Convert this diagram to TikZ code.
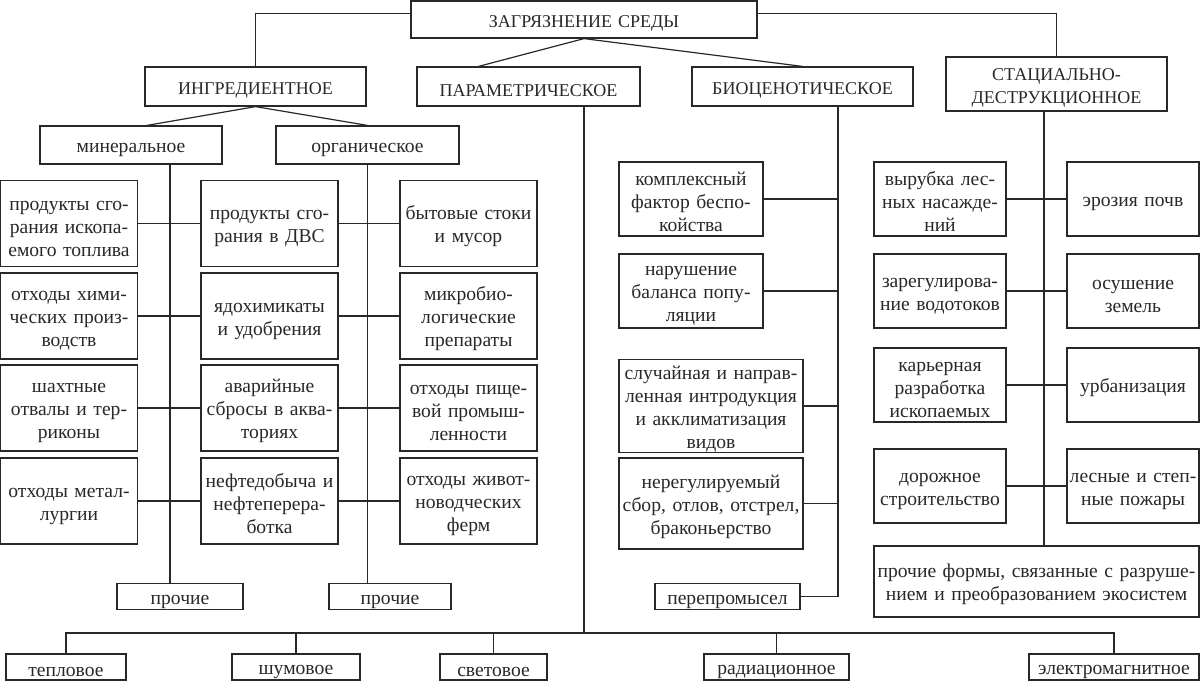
\documentclass[tikz,border=0pt]{standalone}
\usepackage{fontspec}
\setmainfont{Liberation Serif}
\definecolor{ink}{RGB}{40,40,40}
\begin{document}
\begin{tikzpicture}[x=0.5pt,y=-0.5pt,
  box/.style={draw=ink, line width=0.6pt, inner sep=0pt, align=center, text=ink,
    font=\fontsize{9.8}{11.5}\selectfont, execute at begin node={\rule{0pt}{9.8pt}}},
  caps/.style={box, font=\fontsize{9}{11.5}\selectfont},
  cell/.style={box, text width=68.5pt, minimum height=43pt},
  pair/.style={box, text width=66pt, minimum height=37pt},
  low/.style={box, minimum height=13pt},
  link/.style={draw=ink, line width=0.6pt}]
  \useasboundingbox (0,0) rectangle (1200,681);

  % top levels
  \node[caps, text width=173pt, minimum height=18.5pt] (zag) at (584,19.5) {ЗАГРЯЗНЕНИЕ СРЕДЫ};
  \node[caps, text width=110.5pt, minimum height=19.5pt] (ingr) at (255.5,86.5) {ИНГРЕДИЕНТНОЕ};
  \node[caps, text width=111.5pt, minimum height=19.5pt] (param) at (528.5,86.5) {ПАРАМЕТРИЧЕСКОЕ};
  \node[caps, text width=110.5pt, minimum height=19.5pt] (bio) at (802.5,86.5) {БИОЦЕНОТИЧЕСКОЕ};
  \node[caps, text width=110.5pt, minimum height=27pt] (stat) at (1056.5,84) {СТАЦИАЛЬНО-\\ДЕСТРУКЦИОННОЕ};
  \node[box, text width=91pt, minimum height=19pt] (miner) at (131,145) {минеральное};
  \node[box, text width=91.5pt, minimum height=19pt] (organ) at (367.5,145) {органическое};

  % ingredient columns
  \node[cell] (a1) at (69,223.5) {продукты сго-\\рания ископа-\\емого топлива};
  \node[cell] (a2) at (69,316) {отходы хими-\\ческих произ-\\водств};
  \node[cell] (a3) at (69,408) {шахтные\\отвалы и тер-\\риконы};
  \node[cell] (a4) at (69,501) {отходы метал-\\лургии};
  \node[cell] (b1) at (269.5,223.5) {продукты сго-\\рания в ДВС};
  \node[cell] (b2) at (269.5,316) {ядохимикаты\\и удобрения};
  \node[cell] (b3) at (269.5,408) {аварийные\\сбросы в аква-\\ториях};
  \node[cell] (b4) at (269.5,501) {нефтедобыча и\\нефтеперера-\\ботка};
  \node[cell] (c1) at (468.5,223.5) {бытовые стоки\\и мусор};
  \node[cell] (c2) at (468.5,316) {микробио-\\логические\\препараты};
  \node[cell] (c3) at (468.5,408) {отходы пище-\\вой промыш-\\ленности};
  \node[cell] (c4) at (468.5,501) {отходы живот-\\новодческих\\ферм};
  \node[low, text width=63pt] (proch1) at (180,596.5) {прочие};
  \node[low, text width=61pt] (proch2) at (390,596.5) {прочие};

  % biocenotic
  \node[box, text width=72pt, minimum height=37pt] (kompl) at (691,199) {комплексный\\фактор беспо-\\койства};
  \node[box, text width=72pt, minimum height=37pt] (narush) at (691,291) {нарушение\\баланса попу-\\ляции};
  \node[box, text width=92pt, minimum height=45pt] (sluch) at (711,406) {случайная и направ-\\ленная интродукция\\и акклиматизация\\видов};
  \node[box, text width=92pt, minimum height=45.5pt] (nereg) at (711,503.5) {нерегулируемый\\сбор, отлов, отстрел,\\браконьерство};
  \node[low, text width=72.5pt] (perepr) at (727.5,596.5) {перепромысел};

  % stational-destructive
  \node[pair] (vyrub) at (940,199) {вырубка лес-\\ных насажде-\\ний};
  \node[pair] (eroz) at (1133,199) {эрозия почв};
  \node[pair] (zareg) at (940,291) {зарегулирова-\\ние водотоков};
  \node[pair] (osush) at (1133,291) {осушение\\земель};
  \node[pair] (kar) at (940,385) {карьерная\\разработка\\ископаемых};
  \node[pair] (urban) at (1133,385) {урбанизация};
  \node[pair] (dor) at (940,486) {дорожное\\строительство};
  \node[pair] (lesn) at (1133,486) {лесные и степ-\\ные пожары};
  \node[box, text width=162.5pt, minimum height=35.5pt] (pf) at (1036.5,581.5) {прочие формы, связанные с разруше-\\нием и преобразованием экосистем};

  % parametric
  \node[low, text width=60pt] (teplo) at (66,667) {тепловое};
  \node[low, text width=64pt] (shum) at (296,667) {шумовое};
  \node[low, text width=53.5pt] (svet) at (493.5,667) {световое};
  \node[low, text width=72.5pt] (rad) at (776.5,667) {радиационное};
  \node[low, text width=85pt] (elmag) at (1114,667) {электромагнитное};

  \coordinate (mtrunk) at (170,0);
  \coordinate (ptrunk) at (584,0);
  \coordinate (btrunk) at (838,0);
  \coordinate (strunk) at (1044,0);
  \coordinate (bus) at (0,633);

  % connectors
  \draw[link] ([yshift=3pt]zag.west) -| (ingr.north);
  \draw[link] ([yshift=3pt]zag.east) -| (stat.north);
  \draw[link] (zag.south) -- ([xshift=-25pt]param.north);
  \draw[link] (zag.south) -- (bio.north);
  \draw[link] (ingr.south) -- ([xshift=8pt]miner.north);
  \draw[link] (ingr.south) -- (organ.north);
  \draw[link] (miner.south -| mtrunk) -- (proch1.north -| mtrunk);
  \draw[link] (organ.south) -- (organ.south |- proch2.north);
  \foreach \r in {1,...,4} {
    \draw[link] (a\r.east) -- (b\r.west);
    \draw[link] (b\r.east) -- (c\r.west);
  }
  \draw[link] (bio.south -| btrunk) |- (perepr.east);
  \foreach \n in {kompl,narush,sluch,nereg}
    \draw[link] (\n.east) -- (\n.east -| btrunk);
  \draw[link] (stat.south -| strunk) -- (pf.north -| strunk);
  \foreach \l/\r in {vyrub/eroz,zareg/osush,kar/urban,dor/lesn}
    \draw[link] (\l.east) -- (\r.west);
  \draw[link] (param.south -| ptrunk) -- (ptrunk |- bus);
  \draw[link] (teplo.north) -- (teplo.north |- bus) -- (elmag.north |- bus) -- (elmag.north);
  \foreach \b in {shum,svet,rad}
    \draw[link] (\b.north) -- (\b.north |- bus);
\end{tikzpicture}
\end{document}
